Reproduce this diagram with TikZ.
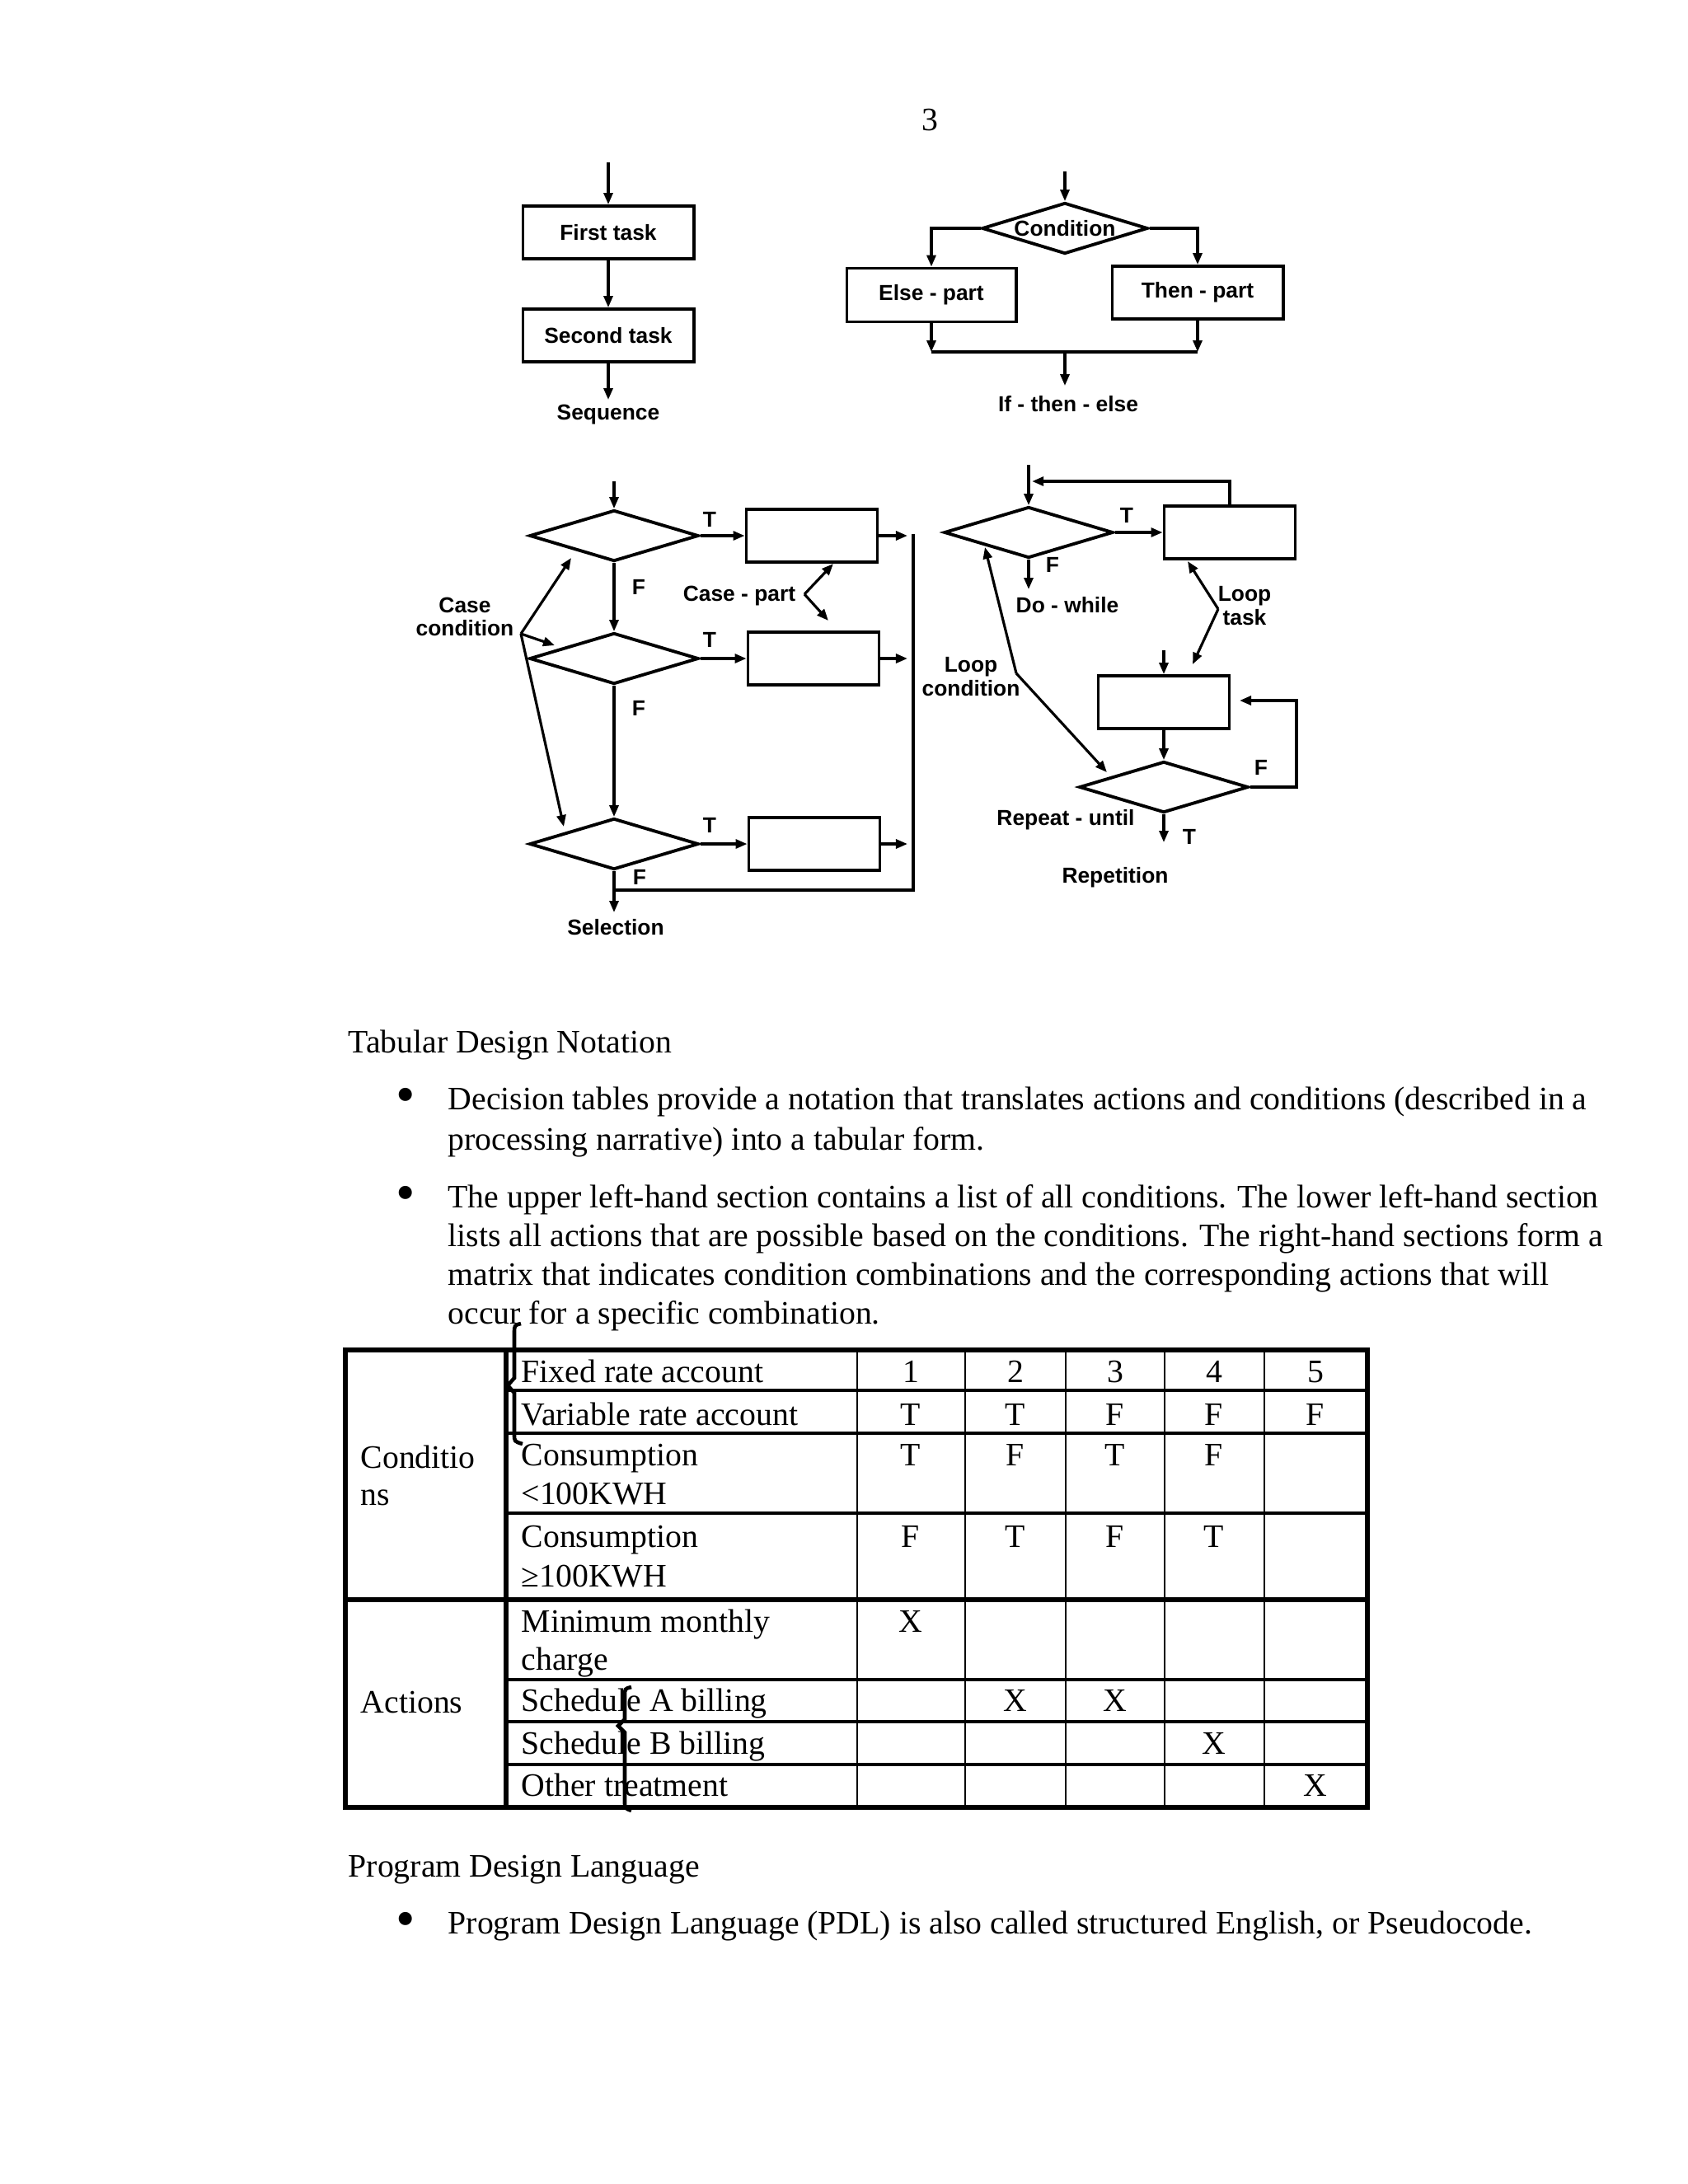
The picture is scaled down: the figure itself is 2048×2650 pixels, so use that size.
\documentclass[tikz,border=0pt]{standalone}
\usepackage{fontspec}
\setmainfont{Liberation Serif}
\newfontfamily\chartfont{Liberation Sans}
\usepackage{tikz}
\usetikzlibrary{arrows.meta,positioning,shapes.geometric}

\begin{document}
\begin{tikzpicture}[
  x=0.01cm, y=-0.01cm,
  lbl/.style={font=\chartfont\bfseries\fontsize{7.5}{8}\selectfont, inner sep=0pt, align=center},
  box/.style={draw, line width=1.1pt, minimum width=2.07cm, minimum height=0.64cm, inner sep=0pt, font=\chartfont\bfseries\fontsize{7.5}{8}\selectfont},
  smallbox/.style={box, minimum width=1.59cm},
  dia/.style={draw, diamond, aspect=3.3, line width=1.1pt, minimum width=2.05cm, minimum height=0.62cm, inner sep=0pt, font=\chartfont\bfseries\fontsize{7.5}{8}\selectfont},
  flow/.style={-{Triangle[length=1.4mm,width=1.1mm]}, line width=0.9pt},
  link/.style={line width=0.9pt},
  body/.style={anchor=base west, inner sep=0pt, font=\fontsize{11.3}{13.4}\selectfont},
  cell/.style={body, anchor=base},
  dot/.style={inner sep=0pt, font=\fontsize{19}{19}\selectfont},
  tabrule/.style={line width=1.1pt},
  tabthin/.style={line width=0.8pt},
  tabheavy/.style={line width=1.6pt},
  brace/.style={line width=1.3pt}
]
  \path[fill=white, use as bounding box] (0,0) rectangle (2048,2650);

  \node[cell] (pagenum) at (1128,158) {3};

  % sequence
  \coordinate (seqin) at (738,197);
  \node[box] (first) at (738,282) {First task};
  \node[box] (second) at (738,407) {Second task};
  \coordinate (seqout) at (738,485);
  \node[lbl] (seqlbl) at (738,503) {Sequence};
  \draw[flow] (seqin) -- (first);
  \draw[flow] (first) -- (second);
  \draw[flow] (second) -- (seqout);

  % if - then - else
  \coordinate (ifin) at (1292,208);
  \node[dia, minimum width=2.01cm] (cond) at (1292,277) {Condition};
  \node[box, minimum width=2.05cm, minimum height=0.65cm] (elsepart) at (1130,358) {Else - part};
  \node[box] (thenpart) at (1453,355) {Then - part};
  \coordinate (ifjoin) at (1292,427);
  \coordinate (ifout) at (1292,468);
  \node[lbl] (iflbl) at (1296,490) {If - then - else};
  \draw[flow] (ifin) -- (cond);
  \draw[flow] (cond.west) -| (elsepart);
  \draw[flow] (cond.east) -| (thenpart);
  \draw[flow] (elsepart) -- (elsepart |- ifjoin);
  \draw[flow] (thenpart) -- (thenpart |- ifjoin);
  \draw[link] (elsepart |- ifjoin) -- (thenpart |- ifjoin);
  \draw[flow] (ifjoin) -- (ifout);

  % selection
  \coordinate (selin) at (745,584);
  \node[dia] (case1) at (745,650) {};
  \node[dia] (case2) at (745,799) {};
  \node[dia] (case3) at (745,1024) {};
  \node[smallbox] (part1) at (985,650) {};
  \node[smallbox] (part2) at (987,799) {};
  \node[smallbox] (part3) at (988,1024) {};
  \coordinate (railtop) at (1108,648);
  \coordinate (railbot) at (1108,1080);
  \coordinate (selout) at (745,1107);
  \node[lbl] (sellbl) at (747,1125) {Selection};
  \draw[flow] (selin) -- (case1);
  \draw[flow] (case1) -- (case2);
  \draw[flow] (case2) -- (case3);
  \draw[flow] (case3) -- (selout);
  \draw[flow] (case1) -- (part1);
  \draw[flow] (case2) -- (part2);
  \draw[flow] (case3) -- (part3);
  \draw[flow, shorten >=2pt] (part1) -- (part1 -| railtop);
  \draw[flow, shorten >=2pt] (part2) -- (part2 -| railtop);
  \draw[flow, shorten >=2pt] (part3) -- (part3 -| railtop);
  \draw[link] (railtop) -- (railbot) -- (railbot -| case3);
  \node[lbl] (t1) at (861,630) {T};
  \node[lbl] (t2) at (861,776) {T};
  \node[lbl] (t3) at (861,1001) {T};
  \node[lbl] (f1) at (775,712) {F};
  \node[lbl] (f2) at (775,859) {F};
  \node[lbl] (f3) at (776,1064) {F};

  \node[lbl] (casecond) at (564,748) {Case\\condition};
  \coordinate (casefork) at (632,769);
  \coordinate (casetip1) at (693,677);
  \coordinate (casetip2) at (673,783);
  \coordinate (casetip3) at (684,1003);
  \draw[flow] (casefork) -- (casetip1);
  \draw[flow] (casefork) -- (casetip2);
  \draw[flow] (casefork) -- (casetip3);

  \node[lbl] (casepart) at (897,723) {Case - part};
  \coordinate (partfork) at (976,721);
  \coordinate (parttip1) at (1011,684);
  \coordinate (parttip2) at (1005,753);
  \draw[flow] (partfork) -- (parttip1);
  \draw[flow] (partfork) -- (parttip2);

  % repetition: do - while
  \coordinate (dwin) at (1248,564);
  \node[dia] (dwcond) at (1248,646) {};
  \node[smallbox] (dwtask) at (1492,646) {};
  \coordinate (dwback) at (1492,584);
  \coordinate (dwout) at (1248,715);
  \node[lbl] (dwlbl) at (1295,734) {Do - while};
  \draw[flow] (dwin) -- (dwcond);
  \draw[flow] (dwcond) -- (dwtask);
  \draw[flow, shorten >=1.2pt] (dwtask) -- (dwback) -- (dwback -| dwin);
  \draw[flow] (dwcond) -- (dwout);
  \node[lbl] (tdw) at (1367,625) {T};
  \node[lbl] (fdw) at (1277,685) {F};

  \node[lbl] (loopcond) at (1178,821) {Loop\\condition};
  \coordinate (condfork) at (1233,817);
  \coordinate (condtip1) at (1195,664);
  \coordinate (condtip2) at (1343,937);
  \draw[flow] (condfork) -- (condtip1);
  \draw[flow] (condfork) -- (condtip2);

  \node[lbl] (looptask) at (1510,735) {Loop\\task};
  \coordinate (taskfork) at (1478,739);
  \coordinate (tasktip1) at (1441,681);
  \coordinate (tasktip2) at (1447,806);
  \draw[flow] (taskfork) -- (tasktip1);
  \draw[flow] (taskfork) -- (tasktip2);

  % repetition: repeat - until
  \coordinate (ruin) at (1412,789);
  \node[smallbox] (rutask) at (1412,852) {};
  \node[dia] (rucond) at (1412,955) {};
  \coordinate (ruback) at (1573,850);
  \coordinate (ruout) at (1412,1022);
  \draw[flow] (ruin) -- (rutask);
  \draw[flow] (rutask) -- (rucond);
  \draw[flow, shorten >=3pt] (rucond.east) -| (ruback) -- (ruback -| rutask.east);
  \draw[flow] (rucond) -- (ruout);
  \node[lbl] (fru) at (1530,931) {F};
  \node[lbl] (tru) at (1443,1015) {T};
  \node[lbl] (rulbl) at (1293,995) {Repeat - until};
  \node[lbl] (replbl) at (1353,1065) {Repetition};

  % text
  \node[body] (tabhead) at (422,1277) {Tabular Design Notation};
  \node[dot] (dot1) at (492,1335) {\textbullet};
  \node[body] (b1l1) at (543,1346) {Decision tables provide a notation that translates actions and conditions (described in a};
  \node[body] (b1l2) at (543,1395) {processing narrative) into a tabular form.};
  \node[dot] (dot2) at (492,1454) {\textbullet};
  \node[body] (b2l1) at (543,1465) {The upper left-hand section contains a list of all conditions. The lower left-hand section};
  \node[body] (b2l2) at (543,1512) {lists all actions that are possible based on the conditions. The right-hand sections form a};
  \node[body] (b2l3) at (543,1559) {matrix that indicates condition combinations and the corresponding actions that will};
  \node[body] (b2l4) at (543,1606) {occur for a specific combination.};

  % decision table
  \draw[tabheavy] (419,1638) rectangle (1659,2193);
  \draw[tabheavy] (419,1941) -- (1659,1941);
  \draw[tabheavy] (614,1638) -- (614,2193);
  \draw[tabrule] (614,1687) -- (1659,1687);
  \draw[tabrule] (614,1739) -- (1659,1739);
  \draw[tabrule] (614,1836) -- (1659,1836);
  \draw[tabrule] (614,2038) -- (1659,2038);
  \draw[tabrule] (614,2089) -- (1659,2089);
  \draw[tabrule] (614,2141) -- (1659,2141);
  \draw[tabthin] (1040,1638) -- (1040,2193);
  \draw[tabthin] (1171,1638) -- (1171,2193);
  \draw[tabthin] (1293,1638) -- (1293,2193);
  \draw[tabthin] (1413,1638) -- (1413,2193);
  \draw[tabthin] (1534,1638) -- (1534,2193);

  \node[body] (condhead) at (437,1781) {Conditio};
  \node[body] (condhead2) at (437,1826) {ns};
  \node[body] (acthead) at (437,2078) {Actions};

  \node[body] (rfixed) at (632,1677) {Fixed rate account};
  \node[body] (rvar) at (632,1729) {Variable rate account};
  \node[body] (rlow) at (632,1778) {Consumption};
  \node[body] (rlow2) at (632,1825) {<100KWH};
  \node[body] (rhigh) at (632,1877) {Consumption};
  \node[body] (rhigh2) at (632,1925) {≥100KWH};
  \node[body] (rmin) at (632,1980) {Minimum monthly};
  \node[body] (rmin2) at (632,2026) {charge};
  \node[body] (rscha) at (632,2076) {Schedule A billing};
  \node[body] (rschb) at (632,2128) {Schedule B billing};
  \node[body] (rother) at (632,2179) {Other treatment};

  \node[cell] (n1) at (1105,1677) {1};
  \node[cell] (n2) at (1232,1677) {2};
  \node[cell] (n3) at (1353,1677) {3};
  \node[cell] (n4) at (1473,1677) {4};
  \node[cell] (n5) at (1596,1677) {5};
  \node[cell] (v1) at (1105,1729) {T};
  \node[cell] (v2) at (1232,1729) {T};
  \node[cell] (v3) at (1353,1729) {F};
  \node[cell] (v4) at (1473,1729) {F};
  \node[cell] (v5) at (1596,1729) {F};
  \node[cell] (low1) at (1105,1778) {T};
  \node[cell] (low2) at (1232,1778) {F};
  \node[cell] (low3) at (1353,1778) {T};
  \node[cell] (low4) at (1473,1778) {F};
  \node[cell] (high1) at (1105,1877) {F};
  \node[cell] (high2) at (1232,1877) {T};
  \node[cell] (high3) at (1353,1877) {F};
  \node[cell] (high4) at (1473,1877) {T};
  \node[cell] (min1) at (1105,1980) {X};
  \node[cell] (scha2) at (1232,2076) {X};
  \node[cell] (scha3) at (1353,2076) {X};
  \node[cell] (schb4) at (1473,2128) {X};
  \node[cell] (other5) at (1596,2179) {X};

  % stray braces
  \draw[brace] (632,1606) .. controls (624,1608) .. (624,1618) -- (624,1672) -- (616,1681) -- (624,1690) -- (624,1740) .. controls (624,1749) .. (634,1752);
  \draw[brace] (766,2047) .. controls (758,2049) .. (758,2058) -- (758,2086) -- (750,2094) -- (758,2102) -- (758,2186) .. controls (758,2194) .. (766,2197);

  \node[body] (pdlhead) at (422,2277) {Program Design Language};
  \node[dot] (dot3) at (492,2335) {\textbullet};
  \node[body] (pdl1) at (543,2346) {Program Design Language (PDL) is also called structured English, or Pseudocode.};
\end{tikzpicture}
\end{document}
